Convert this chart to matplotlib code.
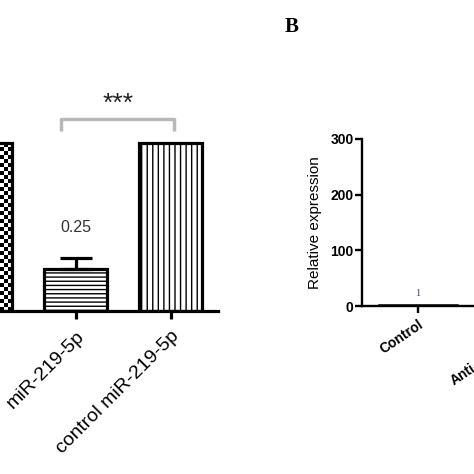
import matplotlib
matplotlib.use("Agg")
import matplotlib.pyplot as plt
import numpy as np

plt.rcParams['font.family'] = ['Liberation Sans', 'DejaVu Sans']
plt.rcParams['hatch.linewidth'] = 1.0

# Panel A data
a_categories = ["inhibitor miR-219-5p", "miR-219-5p", "control miR-219-5p"]
a_tick_labels = ["inhibitor miR-219-5p", "miR-219-5p", "control miR-219-5p"]
a_values = [1.0, 0.25, 1.0]
a_err_upper = [0.0, 0.065, 0.0]
a_value_labels = {1: "0.25"}
a_sig = "***"

# Panel B data
b_categories = ["Control", "Anti-miR-219-5p"]
b_values = [1.0, None]
b_yticks = [0, 100, 200, 300]

W = H = 474
fig = plt.figure(figsize=(4.74, 4.74), dpi=100)

def fx(px):
    return px / W

def fy(py):
    return (H - py) / H

# ---------- Panel A ----------
xl0, xl1 = -0.6, 2.5
ppu = 95.0
x_center1 = 75.5
left_px = x_center1 - (1 - xl0) * ppu
width_px = (xl1 - xl0) * ppu
ylo, yhi = 0, 1.4
base_px = 311
unit_py = 168.0
axA = fig.add_axes([fx(left_px), fy(base_px), width_px / W, (yhi - ylo) * unit_py / H])
axA.set_xlim(xl0, xl1)
axA.set_ylim(ylo, yhi)
xs = np.arange(len(a_categories))
bw = 0.66
hatches = [None, '----', '|||']
faces = ['none', 'white', 'white']
bars = []
for i, (x, v) in enumerate(zip(xs, a_values)):
    b = axA.bar(x, v, width=bw, facecolor=faces[i], edgecolor='black',
                linewidth=2.3, hatch=hatches[i], zorder=2)[0]
    bars.append(b)

# checkerboard fill for first bar
n_x, n_y = 16, 42
checker = (np.add.outer(np.arange(n_y), np.arange(n_x)) % 2).astype(float)
im = axA.imshow(checker, cmap='gray', extent=[xs[0] - bw / 2, xs[0] + bw / 2, 0, a_values[0]],
                aspect='auto', interpolation='nearest', zorder=1.5)
im.set_clip_path(bars[0])
axA.set_xlim(xl0, xl1)
axA.set_ylim(ylo, yhi)

# error bar (upper only)
for i, e in enumerate(a_err_upper):
    if e > 0:
        axA.errorbar(xs[i], a_values[i], yerr=[[0], [e]], fmt='none', ecolor='black',
                     elinewidth=2.3, capsize=11.5, capthick=2.3, zorder=3)
for i, t in a_value_labels.items():
    axA.text(xs[i], a_values[i] + 0.245, t, ha='center', va='center', fontsize=11.5, color='#333333')

# significance bracket
yb, yd = 1.14, 1.07
axA.plot([xs[1] - 0.15, xs[1] - 0.15, xs[2] + 0.04, xs[2] + 0.04], [yd, yb, yb, yd],
         color='#b8b8b8', linewidth=2.5, solid_capstyle='butt', clip_on=False)
axA.text((xs[1] - 0.15 + xs[2] + 0.04) / 2, 1.235, a_sig, ha='center', va='center', fontsize=19, color='#222222')

for s in ['top', 'right']:
    axA.spines[s].set_visible(False)
axA.spines['bottom'].set_linewidth(2.3)
axA.spines['left'].set_linewidth(2.3)
axA.set_yticks([])
axA.set_xticks(xs)
axA.set_xticklabels(a_tick_labels, rotation=45, ha='right', rotation_mode='anchor', fontsize=14)
axA.tick_params(axis='x', direction='out', length=6, width=2.3, pad=6)

# ---------- Panel B ----------
bx_axis = 362
b_base = 306
b_top = 139
b_c0 = 418
b_spacing = 118.0
b_bw_px = 78.0
bxl0 = -(b_c0 - bx_axis) / b_spacing
bxl1 = bxl0 + 200 / b_spacing
axB = fig.add_axes([fx(bx_axis), fy(b_base), 200 / W, (b_base - b_top) / H])
axB.set_xlim(bxl0, bxl1)
axB.set_ylim(0, 300)
bxs = np.arange(len(b_categories))
for x, v in zip(bxs, b_values):
    if v is not None:
        axB.bar(x, v, width=b_bw_px / b_spacing, facecolor='white', edgecolor='black', linewidth=1.8)
        axB.text(x, v + 22, f"{v:g}", ha='center', va='center', fontsize=7.5,
                 family='Liberation Serif', color='#3a4a6a')
for s in ['top', 'right']:
    axB.spines[s].set_visible(False)
axB.spines['bottom'].set_linewidth(1.7)
axB.spines['left'].set_linewidth(1.7)
axB.set_yticks(b_yticks)
axB.set_yticklabels([str(t) for t in b_yticks], fontsize=10, fontweight='bold')
axB.tick_params(axis='y', direction='out', length=5, width=1.7, pad=1)
axB.set_xticks(bxs)
axB.set_xticklabels(b_categories, rotation=34, ha='right', rotation_mode='anchor',
                    fontsize=10, fontweight='bold')
axB.tick_params(axis='x', direction='out', length=5, width=1.7, pad=3)
axB.set_ylabel("Relative expression", fontsize=11, labelpad=6)

fig.text(fx(292), fy(27), "B", ha='center', va='center', fontsize=15, fontweight='bold',
         family='Liberation Serif')

fig.savefig("out.png", dpi=100)
